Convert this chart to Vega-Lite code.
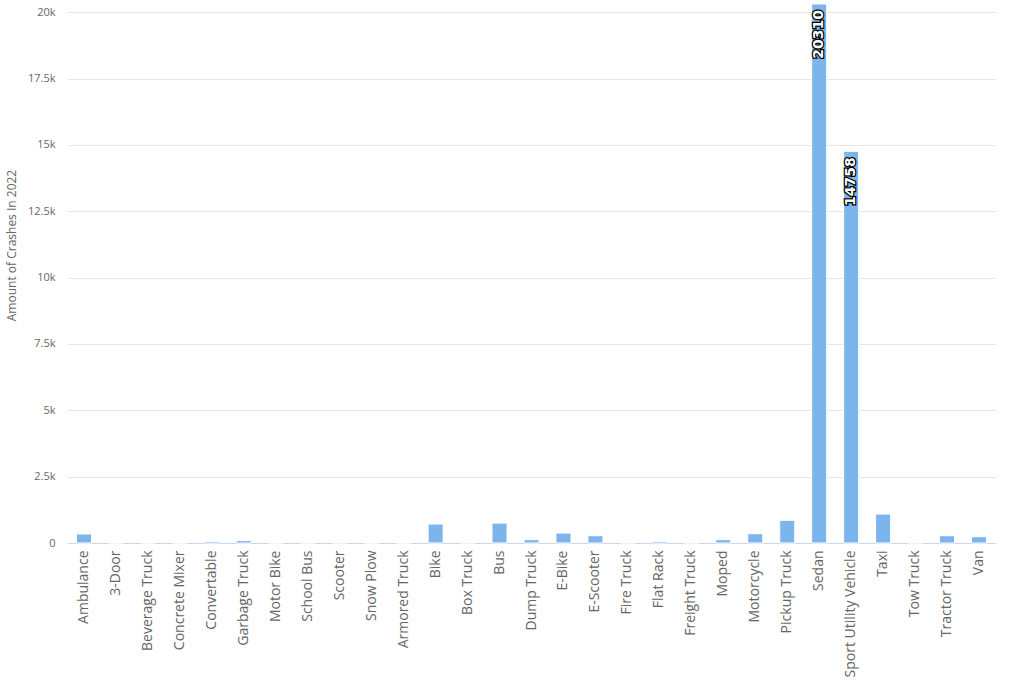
{
  "$schema": "https://vega.github.io/schema/vega-lite/v6.json",
  "width": 927,
  "height": 539,
  "autosize": {"type": "none"},
  "padding": {"left": 68, "top": 4, "right": 15, "bottom": 139},
  "background": "#ffffff",
  "config": {
    "view": {"stroke": null},
    "font": "Open Sans"
  },
  "data": {
    "values": [
      {"vehicle": "Ambulance", "count": 340},
      {"vehicle": "3-Door", "count": 2},
      {"vehicle": "Beverage Truck", "count": 3},
      {"vehicle": "Concrete Mixer", "count": 2},
      {"vehicle": "Convertable", "count": 60},
      {"vehicle": "Garbage Truck", "count": 90},
      {"vehicle": "Motor Bike", "count": 3},
      {"vehicle": "School Bus", "count": 4},
      {"vehicle": "Scooter", "count": 5},
      {"vehicle": "Snow Plow", "count": 2},
      {"vehicle": "Armored Truck", "count": 3},
      {"vehicle": "Bike", "count": 715},
      {"vehicle": "Box Truck", "count": 5},
      {"vehicle": "Bus", "count": 750},
      {"vehicle": "Dump Truck", "count": 125},
      {"vehicle": "E-Bike", "count": 375},
      {"vehicle": "E-Scooter", "count": 275},
      {"vehicle": "Fire Truck", "count": 6},
      {"vehicle": "Flat Rack", "count": 60},
      {"vehicle": "Freight Truck", "count": 5},
      {"vehicle": "Moped", "count": 125},
      {"vehicle": "Motorcycle", "count": 350},
      {"vehicle": "Pickup Truck", "count": 855},
      {"vehicle": "Sedan", "count": 20310},
      {"vehicle": "Sport Utility Vehicle", "count": 14758},
      {"vehicle": "Taxi", "count": 1090},
      {"vehicle": "Tow Truck", "count": 6},
      {"vehicle": "Tractor Truck", "count": 275},
      {"vehicle": "Van", "count": 235}
    ]
  },
  "encoding": {
    "x": {
      "field": "vehicle",
      "type": "nominal",
      "sort": null,
      "title": null,
      "scale": {"paddingInner": 0.53, "paddingOuter": 0.265},
      "axis": {
        "labelAngle": -90,
        "labelAlign": "right",
        "labelBaseline": "middle",
        "labelPadding": 7,
        "labelFontSize": 14,
        "labelColor": "#666666",
        "labelFont": "Open Sans",
        "ticks": false,
        "domainColor": "#ccd6eb",
        "domainWidth": 1,
        "grid": false
      }
    },
    "y": {
      "field": "count",
      "type": "quantitative",
      "title": "Amount of Crashes In 2022",
      "scale": {"domain": [0, 20310], "nice": false},
      "axis": {
        "values": [0, 2500, 5000, 7500, 10000, 12500, 15000, 17500, 20000],
        "labelExpr": "datum.value == 0 ? '0' : format(datum.value / 1000, '~g') + 'k'",
        "labelFontSize": 11,
        "labelColor": "#666666",
        "labelPadding": 13,
        "ticks": false,
        "domain": false,
        "gridColor": "#e6e6e6",
        "titleColor": "#666666",
        "titleFontSize": 12,
        "titleFontWeight": "normal",
        "titleX": -50,
        "titleY": 241
      }
    }
  },
  "layer": [
    {
      "mark": {"type": "bar", "color": "#7cb5ec", "stroke": "#ffffff", "strokeWidth": 1}
    },
    {
      "transform": [{"filter": "datum.count > 10000"}],
      "mark": {
        "type": "text",
        "angle": 270,
        "align": "right",
        "baseline": "middle",
        "dx": -6,
        "font": "DejaVu Sans",
        "fontSize": 14,
        "fontWeight": "bold",
        "fill": "#000000",
        "stroke": "#000000",
        "strokeWidth": 2.5
      },
      "encoding": {"text": {"field": "count", "type": "quantitative", "format": "d"}}
    },
    {
      "transform": [{"filter": "datum.count > 10000"}],
      "mark": {
        "type": "text",
        "angle": 270,
        "align": "right",
        "baseline": "middle",
        "dx": -6,
        "font": "DejaVu Sans",
        "fontSize": 14,
        "fontWeight": "bold",
        "fill": "#ffffff"
      },
      "encoding": {"text": {"field": "count", "type": "quantitative", "format": "d"}}
    }
  ]
}
